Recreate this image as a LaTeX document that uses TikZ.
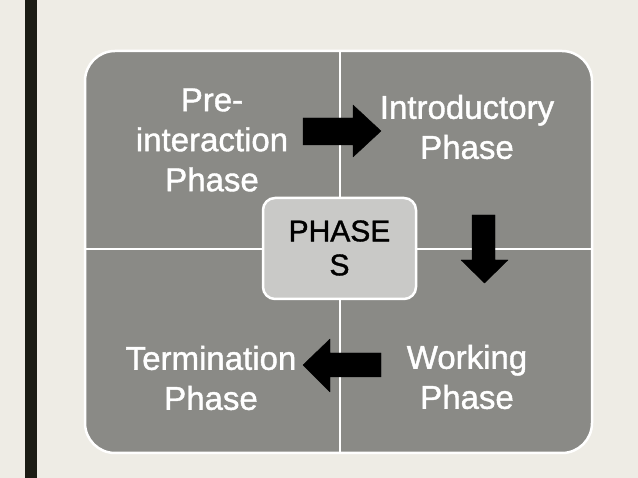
\documentclass[tikz,border=0pt]{standalone}
\usepackage{fontspec}
\setmainfont{Liberation Sans}
\newfontfamily\heavyfont[FakeBold=1.2]{Liberation Sans}
\definecolor{paper}{HTML}{EEECE5}
\definecolor{bar}{HTML}{1B1C14}
\definecolor{quad}{HTML}{8A8A86}
\definecolor{hub}{HTML}{C9C9C7}
\tikzset{
	phasetext/.style={color=white, align=center, font=\heavyfont\fontsize{33}{40}\selectfont},
	hubtext/.style={color=black, align=center, font=\heavyfont\fontsize{30}{34}\selectfont},
	blockarrow/.style={fill=black, draw=black, line join=round}
}
\begin{document}
\begin{tikzpicture}[x=1pt, y=-1pt]
	\useasboundingbox (0,0) rectangle (638,478);
	\fill[color=paper] (0,0) rectangle (638,478);
	\fill[color=bar] (25,0) rectangle (37,478);
	% four quadrants: one rounded block cut by white lines
	\draw[line width=2.5pt, color=white, fill=quad, rounded corners=30pt] (85,51) rectangle (592,453);
	\draw[line width=2.5pt, color=white] (340,51) -- (340,453);
	\draw[line width=2.5pt, color=white] (85,249) -- (592,249);
	\node[phasetext] (pre) at (212,140) {Pre-\\interaction\\Phase};
	\node[phasetext] (intro) at (467,127) {Introductory\\Phase};
	\node[phasetext] (work) at (467,377) {Working\\Phase};
	\node[phasetext] (term) at (211,378) {Termination\\Phase};
	% centre box
	\draw[line width=2.5pt, color=white, fill=hub, rounded corners=12pt] (263,198) rectangle (416,299);
	\node[hubtext] (hub) at (339.5,248) {PHASE\\S};
	% arrows
	\draw[blockarrow] (303,118) -- (353,118) -- (353,105) -- (381,131) -- (353,157) -- (353,145) -- (303,145) -- cycle;
	\draw[blockarrow] (472,215) -- (495,215) -- (495,260) -- (508,260) -- (484.5,283) -- (461,260) -- (472,260) -- cycle;
	\draw[blockarrow] (381,353) -- (330,353) -- (330,339) -- (303,365) -- (330,392) -- (330,377) -- (381,377) -- cycle;
\end{tikzpicture}
\end{document}
